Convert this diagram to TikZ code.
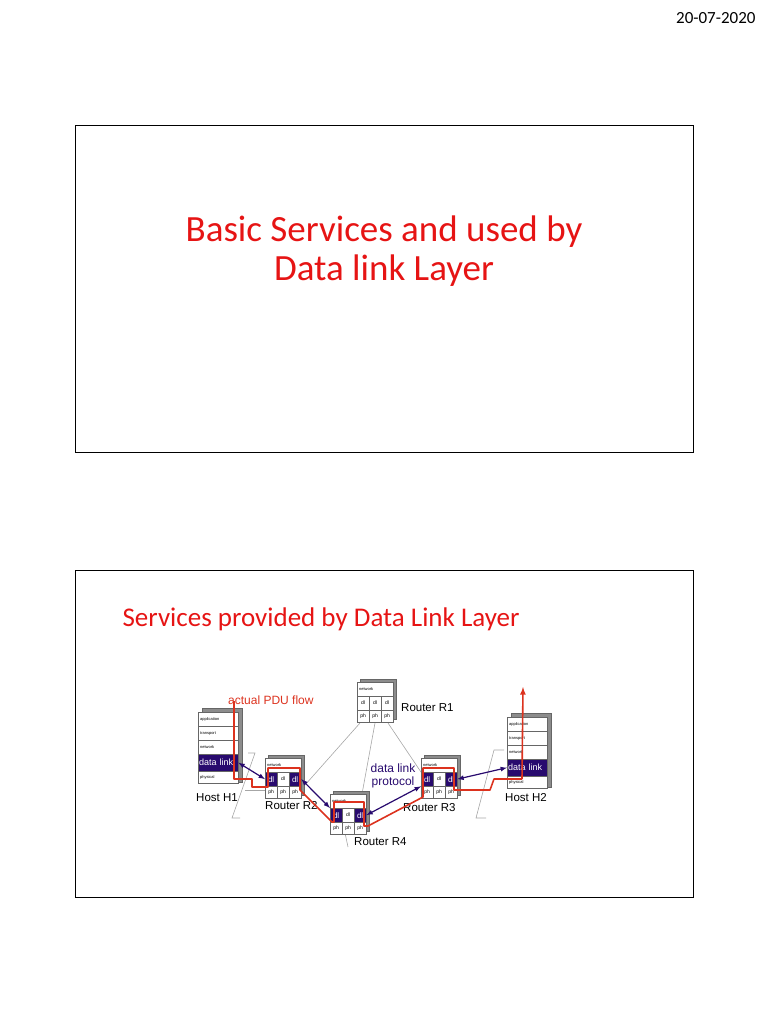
\documentclass[tikz,border=0pt]{standalone}
\usepackage{fontspec}
\setmainfont{Carlito}
\newfontfamily\arl{Liberation Sans}
\definecolor{ttl}{RGB}{230,20,20}
\definecolor{dblue}{RGB}{40,10,110}
\definecolor{pdu}{RGB}{220,50,30}
\begin{document}
\begin{tikzpicture}[x=1pt,y=-1pt,
  slide/.style={draw=black,line width=0.8pt},
  cell/.style={draw=black!60,fill=white,line width=0.3pt,inner sep=0,font=\arl\fontsize{4}{4}\selectfont},
  dcell/.style={draw=black!60,fill=dblue,text=white,line width=0.3pt,inner sep=0,font=\arl\fontsize{8}{8}\selectfont},
  shad/.style={fill=black!45,draw=black!60},
  lbl/.style={font=\arl\fontsize{11.5}{11.5}\selectfont,inner sep=0},
  glink/.style={draw=black!35,line width=0.6pt},
  barrow/.style={<->,>=latex,draw=dblue,line width=1.2pt},
  redp/.style={draw=pdu,line width=1.6pt,line join=round}]
\useasboundingbox (0,0) rectangle (768,1024);
\node[font=\fontsize{17}{17}\selectfont,anchor=east] (date) at (759,18) {20-07-2020};
\draw[slide] (75,125) rectangle (693,452);
\node[text=ttl,font=\fontsize{37}{39}\selectfont,align=center] (t1) at (384,251) {Basic Services and used by\\Data link Layer};
\draw[slide] (75,570) rectangle (693,897);
\node[text=ttl,font=\fontsize{27}{27}\selectfont,anchor=west] (t2) at (119,619) {Services provided by Data Link Layer};
% router macro
\newcommand\rtr[3]{%
 \fill[shad] (#2+3,#3-3) rectangle (#2+39,#3+37);
 \node[cell,minimum width=36pt,minimum height=14pt,anchor=north west,text width=32pt,align=left] (#1) at (#2,#3) {network};
 \node[dcell,minimum width=12pt,minimum height=14pt,anchor=north west] (#1a) at (#2,#3+14) {dl};
 \node[cell,minimum width=12pt,minimum height=14pt,anchor=north west,font=\arl\fontsize{5}{5}\selectfont] (#1b) at (#2+12,#3+14) {dl};
 \node[dcell,minimum width=12pt,minimum height=14pt,anchor=north west] (#1c) at (#2+24,#3+14) {dl};
 \foreach \i in {0,1,2}{\node[cell,minimum width=12pt,minimum height=12pt,anchor=north west,font=\arl\fontsize{5}{5}\selectfont] at (#2+12*\i,#3+28) {ph};}
}
\newcommand\rtrone[3]{%
 \fill[shad] (#2+3,#3-3) rectangle (#2+39,#3+37);
 \node[cell,minimum width=36pt,minimum height=14pt,anchor=north west,text width=32pt,align=left] (#1) at (#2,#3) {network};
 \foreach \i in {0,1,2}{\node[cell,minimum width=12pt,minimum height=14pt,anchor=north west,font=\arl\fontsize{5}{5}\selectfont] at (#2+12*\i,#3+14) {dl};
 \node[cell,minimum width=12pt,minimum height=12pt,anchor=north west,font=\arl\fontsize{5}{5}\selectfont] at (#2+12*\i,#3+28) {ph};}
}
\newcommand\host[3]{%
 \fill[shad] (#2+4,#3-4) rectangle (#2+44,#3+70);
 \node[cell,minimum width=40pt,minimum height=14pt,anchor=north west,text width=36pt,align=left] (#1) at (#2,#3) {application};
 \node[cell,minimum width=40pt,minimum height=14pt,anchor=north west,text width=36pt,align=left] at (#2,#3+14) {transport};
 \node[cell,minimum width=40pt,minimum height=14pt,anchor=north west,text width=36pt,align=left] at (#2,#3+28) {network};
 \node[dcell,minimum width=40pt,minimum height=17pt,anchor=north west,text width=38pt,align=left,font=\arl\fontsize{9}{9}\selectfont] (#1d) at (#2,#3+42) {data link};
 \node[cell,minimum width=40pt,minimum height=12pt,anchor=north west,text width=36pt,align=left] at (#2,#3+59) {physical};
}
% gray links & brackets
\coordinate (g1) at (360,723); \coordinate (g2) at (305,785);
\coordinate (g3) at (375,723); \coordinate (g4) at (362,794);
\coordinate (g5) at (388,723); \coordinate (g6) at (425,778);
\draw[glink] (g1) -- (g2); \draw[glink] (g3) -- (g4); \draw[glink] (g5) -- (g6);
\draw[glink] (248,753) -- (255,753) -- (232,818) -- (240,818);
\draw[glink] (245,790) -- (265,790);
\draw[glink] (504,750) -- (494,750) -- (476,818) -- (486,818);
\draw[glink] (345,833) -- (348,847);
\rtrone{r1}{357}{682}
\rtr{r2}{265}{758}
\rtr{r4}{330}{794}
\rtr{r3}{421}{758}
\host{h1}{198}{712}
\host{h2}{507}{717}
% labels
\node[lbl,text=pdu,anchor=west,font=\arl\fontsize{12}{12}\selectfont] (pdul) at (228,700) {actual PDU flow};
\node[lbl,anchor=west] (l1) at (401,708) {Router R1};
\node[lbl,anchor=west] (lh1) at (196,798) {Host H1};
\node[lbl,anchor=west] (l2) at (265,806) {Router R2};
\node[lbl,anchor=west] (l3) at (403,808) {Router R3};
\node[lbl,anchor=west] (l4) at (354,842) {Router R4};
\node[lbl,anchor=west] (lh2) at (505,798) {Host H2};
\node[lbl,text=dblue,align=center,font=\arl\fontsize{12}{13}\selectfont] (dlp) at (393,776) {data link\\protocol};
% blue arrows
\draw[barrow] (h1d.east) -- (r2a.west);
\draw[barrow] (r2c.east) -- (r4a.north west);
\draw[barrow] (r4c.east) -- (r3a.south west);
\draw[barrow] (r3c.east) -- (h2d.west);
% red PDU path
\coordinate (p0) at (234,701);
\coordinate (pe) at (523,687);
\draw[redp] (p0) -- (234,779) -- (252,779) -- (252,787) -- (268,787) -- (268,768) -- (300,768) -- (300,790) -- (332,822) -- (334,822) -- (334,802) -- (364,802) -- (364,826) -- (368,826) -- (423,797) -- (423,768) -- (454,768) -- (454,790) -- (490,790) -- (494,779) -- (522,779);
\draw[redp,-latex] (522,779) -- (pe);
\end{tikzpicture}
\end{document}
